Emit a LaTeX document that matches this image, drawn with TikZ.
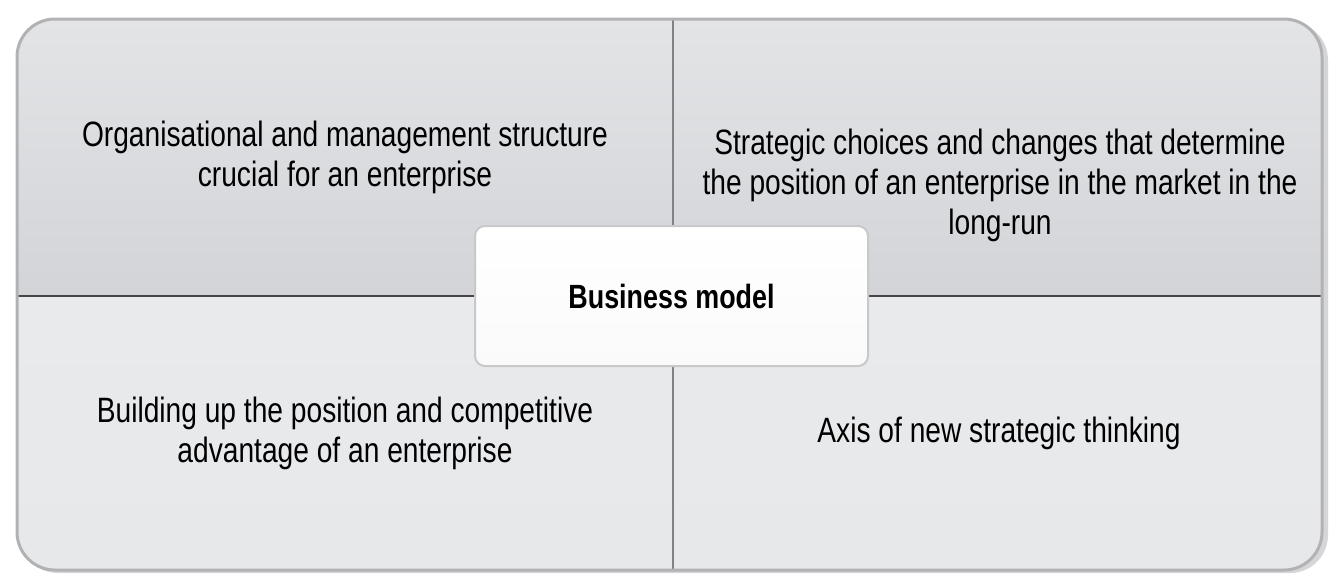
\documentclass[tikz,border=0pt]{standalone}
\usepackage{fontspec}
\setmainfont{Liberation Sans}[FakeStretch=0.8]
\definecolor{tqtop}{RGB}{227,228,230}
\definecolor{tqbot}{RGB}{211,212,216}
\definecolor{bqtop}{RGB}{233,234,236}
\definecolor{bqbot}{RGB}{231,232,234}
\definecolor{bordergray}{RGB}{178,178,180}
\definecolor{shadowgray}{RGB}{214,214,216}
\definecolor{vgray}{RGB}{130,130,132}
\definecolor{hgray}{RGB}{70,70,72}
\definecolor{boxgray}{RGB}{200,200,202}
\begin{document}
\begin{tikzpicture}[x=0.5pt,y=-0.5pt,
  quadtext/.style={align=center, font=\fontsize{17.6pt}{20pt}\selectfont, text=black, inner sep=0pt},
  centerbox/.style={draw=boxgray, line width=1pt, rounded corners=5pt, top color=white, bottom color=white!96!gray,
     minimum width=196.5pt, minimum height=70pt, align=center, font=\fontsize{16.8pt}{20pt}\selectfont\bfseries},
  divider/.style={line width=1pt}]
\useasboundingbox (0,0) rectangle (1342,580);
\fill[white] (0,0) rectangle (1342,580);
\fill[shadowgray, rounded corners=19pt] (20,22) rectangle (1328,573);
\begin{scope}
  \clip[rounded corners=19pt] (17,19) rectangle (1322,570);
  \shade[top color=tqtop, bottom color=tqbot] (17,19) rectangle (1322,296);
  \shade[top color=bqtop, bottom color=bqbot] (17,296) rectangle (1322,570);
\end{scope}
\coordinate (vtop) at (673,19);
\coordinate (vbot) at (673,570);
\coordinate (hleft) at (17,296);
\coordinate (hright) at (1322,296);
\draw[divider, vgray] (vtop) -- (vbot);
\draw[divider, hgray] (hleft) -- (hright);
\draw[bordergray, line width=1.5pt, rounded corners=19pt] (17,19) rectangle (1322,570);
\node[centerbox] (bm) at (671.5,296) {Business model};
\node[quadtext] (tl) at (345,157) {Organisational and management structure\\crucial for an enterprise};
\node[quadtext] (tr) at (1000,185) {Strategic choices and changes that determine\\the position of an enterprise in the market in the\\long-run};
\node[quadtext] (bl) at (345,433) {Building up the position and competitive\\advantage of an enterprise};
\node[quadtext] (br) at (999,433) {Axis of new strategic thinking};
\end{tikzpicture}
\end{document}
